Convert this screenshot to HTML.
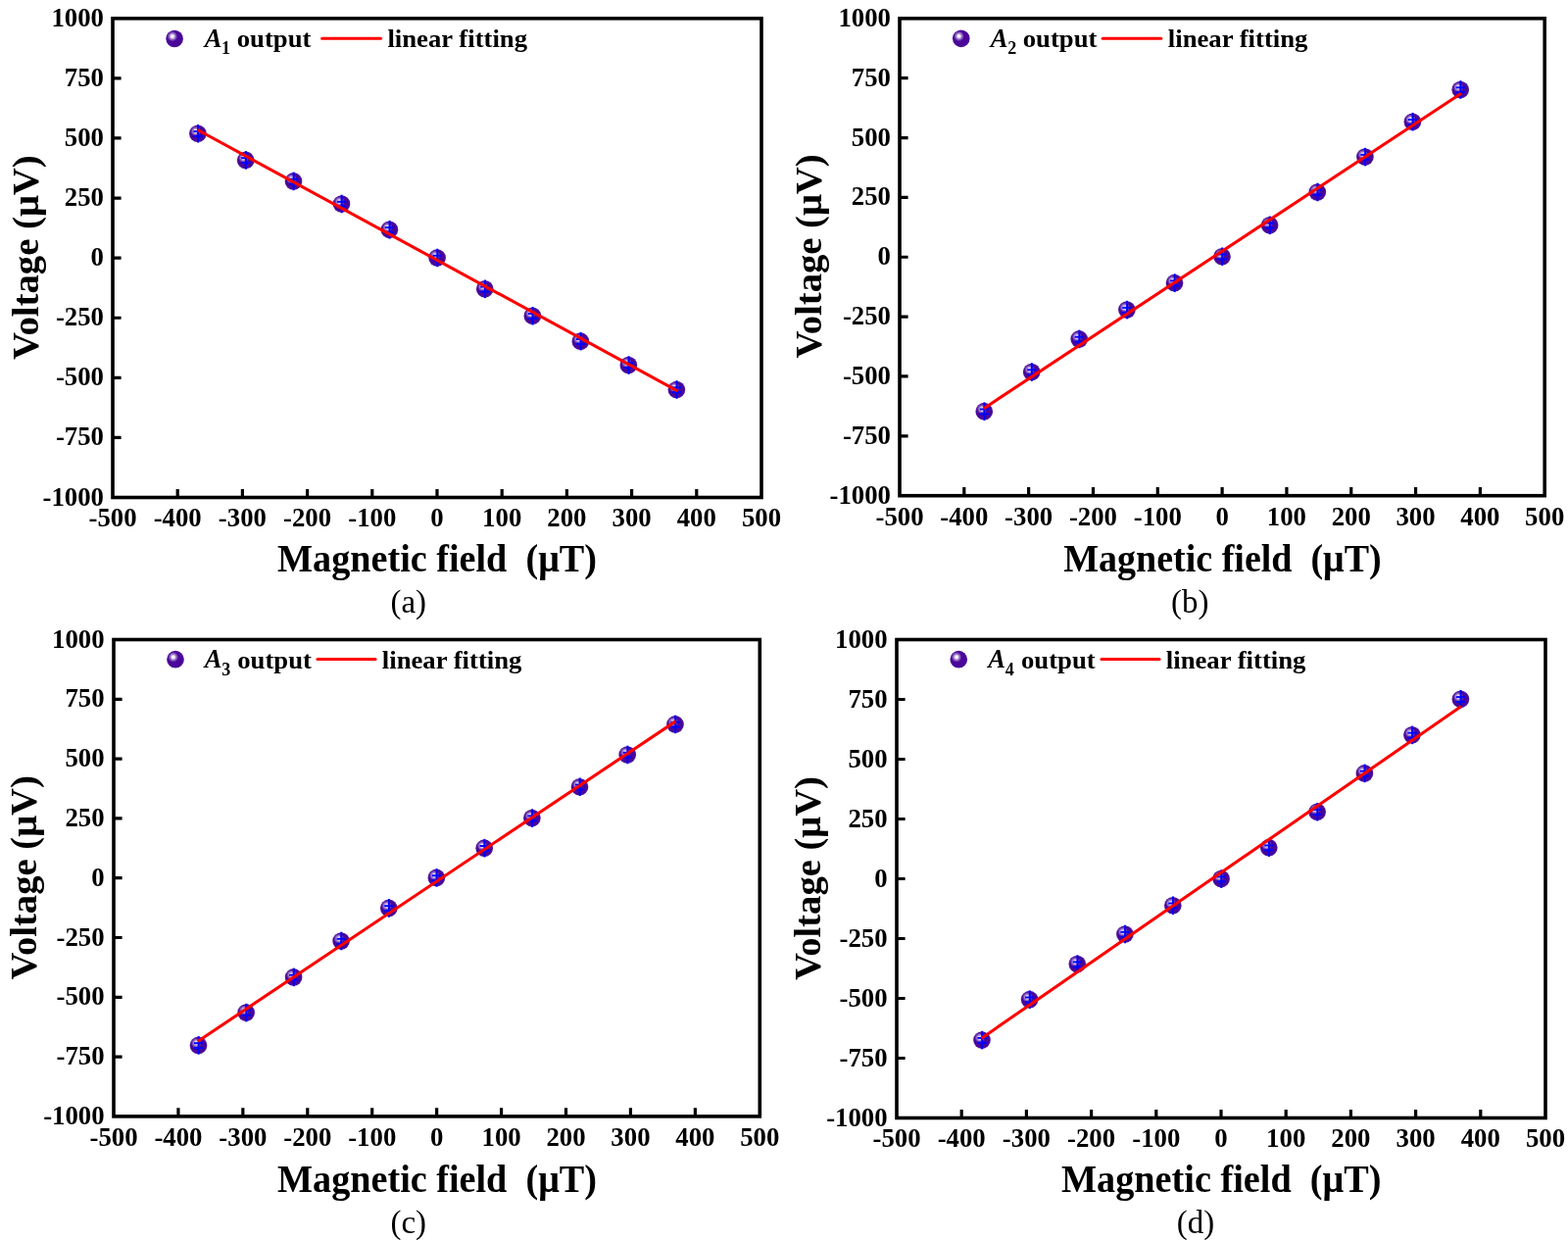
<!DOCTYPE html>
<html lang="en"><head><meta charset="utf-8"><title>Sensor output vs magnetic field</title>
<style>html,body{margin:0;padding:0;background:#fff;}body{width:1600px;height:1265px;overflow:hidden;}svg{display:block;}text{font-family:"Liberation Serif", "Times New Roman", serif;fill:#000;}.tk{font-size:27.7px;font-weight:bold;}.lg{font-size:26.7px;font-weight:bold;}.lg2{font-size:25.4px;font-weight:bold;}.xl{font-size:39.6px;font-weight:bold;}.yl{font-size:38.6px;font-weight:bold;}.cp{font-size:33.0px;}</style></head><body>
<svg width="1600" height="1265" viewBox="0 0 1600 1265">
<defs><radialGradient id="sph" cx="0.5" cy="0.5" r="0.5"><stop offset="0" stop-color="#4c0a9c"/><stop offset="0.8" stop-color="#4a0598"/><stop offset="1" stop-color="#4f1a9c"/></radialGradient><radialGradient id="hl" cx="0.5" cy="0.5" r="0.5"><stop offset="0" stop-color="#ffffff" stop-opacity="1"/><stop offset="0.25" stop-color="#ffffff" stop-opacity="0.93"/><stop offset="0.6" stop-color="#ffffff" stop-opacity="0.42"/><stop offset="1" stop-color="#ffffff" stop-opacity="0"/></radialGradient><g id="mk"><circle r="8.85" fill="url(#sph)"/><circle cx="-2.2" cy="-2.4" r="5.3" fill="url(#hl)"/></g><g id="eb" stroke="#0000ff" stroke-width="2" fill="none"><line x1="0.2" y1="-9.3" x2="0.2" y2="9.3"/><line x1="-4.6" y1="-2.2" x2="4.8" y2="-2.2"/><line x1="-4.6" y1="2.7" x2="4.8" y2="2.7"/></g></defs>
<rect x="0" y="0" width="1600" height="1265" fill="#ffffff"/>
<g id="plot-a">
<rect x="115" y="18.8" width="662" height="488.7" fill="none" stroke="#000" stroke-width="3.6"/>
<path d="M181.2 507.5V498.9M247.4 507.5V498.9M313.6 507.5V498.9M379.8 507.5V498.9M446 507.5V498.9M512.2 507.5V498.9M578.4 507.5V498.9M644.6 507.5V498.9M710.8 507.5V498.9M115 79.89H123.6M115 140.97H123.6M115 202.06H123.6M115 263.15H123.6M115 324.24H123.6M115 385.32H123.6M115 446.41H123.6" stroke="#000" stroke-width="3.2" fill="none"/>
<text class="tk" transform="translate(115 536.8) scale(0.967 1)" text-anchor="middle">-500</text>
<text class="tk" transform="translate(181.2 536.8) scale(0.967 1)" text-anchor="middle">-400</text>
<text class="tk" transform="translate(247.4 536.8) scale(0.967 1)" text-anchor="middle">-300</text>
<text class="tk" transform="translate(313.6 536.8) scale(0.967 1)" text-anchor="middle">-200</text>
<text class="tk" transform="translate(379.8 536.8) scale(0.967 1)" text-anchor="middle">-100</text>
<text class="tk" transform="translate(446 536.8) scale(0.967 1)" text-anchor="middle">0</text>
<text class="tk" transform="translate(512.2 536.8) scale(0.967 1)" text-anchor="middle">100</text>
<text class="tk" transform="translate(578.4 536.8) scale(0.967 1)" text-anchor="middle">200</text>
<text class="tk" transform="translate(644.6 536.8) scale(0.967 1)" text-anchor="middle">300</text>
<text class="tk" transform="translate(710.8 536.8) scale(0.967 1)" text-anchor="middle">400</text>
<text class="tk" transform="translate(777 536.8) scale(0.967 1)" text-anchor="middle">500</text>
<text class="tk" transform="translate(106 26.8) scale(0.967 1)" text-anchor="end">1000</text>
<text class="tk" transform="translate(106 87.89) scale(0.967 1)" text-anchor="end">750</text>
<text class="tk" transform="translate(106 148.97) scale(0.967 1)" text-anchor="end">500</text>
<text class="tk" transform="translate(106 210.06) scale(0.967 1)" text-anchor="end">250</text>
<text class="tk" transform="translate(106 271.15) scale(0.967 1)" text-anchor="end">0</text>
<text class="tk" transform="translate(106 332.24) scale(0.967 1)" text-anchor="end">-250</text>
<text class="tk" transform="translate(106 393.32) scale(0.967 1)" text-anchor="end">-500</text>
<text class="tk" transform="translate(106 454.41) scale(0.967 1)" text-anchor="end">-750</text>
<text class="tk" transform="translate(106 515.5) scale(0.967 1)" text-anchor="end">-1000</text>
<use href="#mk" x="201.9" y="136.25"/><use href="#eb" x="201.9" y="136.25"/>
<use href="#mk" x="250.7" y="163.4"/><use href="#eb" x="250.7" y="163.4"/>
<use href="#mk" x="299.5" y="184.9"/><use href="#eb" x="299.5" y="184.9"/>
<use href="#mk" x="348.5" y="208"/><use href="#eb" x="348.5" y="208"/>
<use href="#mk" x="397.4" y="234.3"/><use href="#eb" x="397.4" y="234.3"/>
<use href="#mk" x="446.1" y="263"/><use href="#eb" x="446.1" y="263"/>
<use href="#mk" x="494.75" y="294.8"/><use href="#eb" x="494.75" y="294.8"/>
<use href="#mk" x="543.4" y="322.25"/><use href="#eb" x="543.4" y="322.25"/>
<use href="#mk" x="592.4" y="348.15"/><use href="#eb" x="592.4" y="348.15"/>
<use href="#mk" x="641.4" y="372.5"/><use href="#eb" x="641.4" y="372.5"/>
<use href="#mk" x="690.4" y="397.5"/><use href="#eb" x="690.4" y="397.5"/>
<line x1="201.7" y1="132.5" x2="691.4" y2="398.8" stroke="#ff0000" stroke-width="3.1" stroke-linecap="butt"/>
<use href="#mk" x="178.1" y="39.5"/>
<text class="lg" x="208.7" y="47.5"><tspan font-style="italic">A</tspan><tspan font-size="18.0px" dx="-0.4" dy="7.2">1</tspan></text>
<text class="lg2" transform="translate(241.7 47.9) scale(1.052 1)">output</text>
<line x1="328.7" y1="39.3" x2="388.5" y2="39.3" stroke="#ff0000" stroke-width="3.1" stroke-linecap="round"/>
<text class="lg2" transform="translate(395.4 47.9) scale(1.052 1)">linear fitting</text>
<text class="xl" x="283" y="583.4" xml:space="preserve" textLength="326" lengthAdjust="spacingAndGlyphs">Magnetic field  (μT)</text>
<text class="cp" x="416.8" y="624.8" text-anchor="middle">(a)</text>
<text class="yl" transform="translate(38.8 367) rotate(-90)" textLength="208.7" lengthAdjust="spacingAndGlyphs">Voltage (μV)</text>
</g>
<g id="plot-b">
<rect x="918" y="18.8" width="658.2" height="486.9" fill="none" stroke="#000" stroke-width="3.6"/>
<path d="M983.82 505.7V497.1M1049.64 505.7V497.1M1115.46 505.7V497.1M1181.28 505.7V497.1M1247.1 505.7V497.1M1312.92 505.7V497.1M1378.74 505.7V497.1M1444.56 505.7V497.1M1510.38 505.7V497.1M918 79.66H926.6M918 140.53H926.6M918 201.39H926.6M918 262.25H926.6M918 323.11H926.6M918 383.97H926.6M918 444.84H926.6" stroke="#000" stroke-width="3.2" fill="none"/>
<text class="tk" transform="translate(918 535.8) scale(0.967 1)" text-anchor="middle">-500</text>
<text class="tk" transform="translate(983.82 535.8) scale(0.967 1)" text-anchor="middle">-400</text>
<text class="tk" transform="translate(1049.64 535.8) scale(0.967 1)" text-anchor="middle">-300</text>
<text class="tk" transform="translate(1115.46 535.8) scale(0.967 1)" text-anchor="middle">-200</text>
<text class="tk" transform="translate(1181.28 535.8) scale(0.967 1)" text-anchor="middle">-100</text>
<text class="tk" transform="translate(1247.1 535.8) scale(0.967 1)" text-anchor="middle">0</text>
<text class="tk" transform="translate(1312.92 535.8) scale(0.967 1)" text-anchor="middle">100</text>
<text class="tk" transform="translate(1378.74 535.8) scale(0.967 1)" text-anchor="middle">200</text>
<text class="tk" transform="translate(1444.56 535.8) scale(0.967 1)" text-anchor="middle">300</text>
<text class="tk" transform="translate(1510.38 535.8) scale(0.967 1)" text-anchor="middle">400</text>
<text class="tk" transform="translate(1576.2 535.8) scale(0.967 1)" text-anchor="middle">500</text>
<text class="tk" transform="translate(909 26.8) scale(0.967 1)" text-anchor="end">1000</text>
<text class="tk" transform="translate(909 87.66) scale(0.967 1)" text-anchor="end">750</text>
<text class="tk" transform="translate(909 148.53) scale(0.967 1)" text-anchor="end">500</text>
<text class="tk" transform="translate(909 209.39) scale(0.967 1)" text-anchor="end">250</text>
<text class="tk" transform="translate(909 270.25) scale(0.967 1)" text-anchor="end">0</text>
<text class="tk" transform="translate(909 331.11) scale(0.967 1)" text-anchor="end">-250</text>
<text class="tk" transform="translate(909 391.97) scale(0.967 1)" text-anchor="end">-500</text>
<text class="tk" transform="translate(909 452.84) scale(0.967 1)" text-anchor="end">-750</text>
<text class="tk" transform="translate(909 513.7) scale(0.967 1)" text-anchor="end">-1000</text>
<use href="#mk" x="1004.25" y="419.7"/><use href="#eb" x="1004.25" y="419.7"/>
<use href="#mk" x="1052.7" y="379.5"/><use href="#eb" x="1052.7" y="379.5"/>
<use href="#mk" x="1101.2" y="345.9"/><use href="#eb" x="1101.2" y="345.9"/>
<use href="#mk" x="1149.9" y="316.1"/><use href="#eb" x="1149.9" y="316.1"/>
<use href="#mk" x="1198.5" y="288.65"/><use href="#eb" x="1198.5" y="288.65"/>
<use href="#mk" x="1247" y="261.75"/><use href="#eb" x="1247" y="261.75"/>
<use href="#mk" x="1295.6" y="229.8"/><use href="#eb" x="1295.6" y="229.8"/>
<use href="#mk" x="1344.3" y="196"/><use href="#eb" x="1344.3" y="196"/>
<use href="#mk" x="1392.9" y="160.1"/><use href="#eb" x="1392.9" y="160.1"/>
<use href="#mk" x="1441.4" y="124.25"/><use href="#eb" x="1441.4" y="124.25"/>
<use href="#mk" x="1490.2" y="91.5"/><use href="#eb" x="1490.2" y="91.5"/>
<line x1="1003.9" y1="416.7" x2="1491.1" y2="95.2" stroke="#ff0000" stroke-width="3.1" stroke-linecap="butt"/>
<use href="#mk" x="980.75" y="39.3"/>
<text class="lg" x="1010.75" y="47.5"><tspan font-style="italic">A</tspan><tspan font-size="18.0px" dx="-0.4" dy="7.2">2</tspan></text>
<text class="lg2" transform="translate(1043.7 47.9) scale(1.052 1)">output</text>
<line x1="1125.25" y1="39.3" x2="1184.75" y2="39.3" stroke="#ff0000" stroke-width="3.1" stroke-linecap="round"/>
<text class="lg2" transform="translate(1191.8 47.9) scale(1.052 1)">linear fitting</text>
<text class="xl" x="1085.2" y="583.4" xml:space="preserve" textLength="324.5" lengthAdjust="spacingAndGlyphs">Magnetic field  (μT)</text>
<text class="cp" x="1214.2" y="624.8" text-anchor="middle">(b)</text>
<text class="yl" transform="translate(837.75 365.6) rotate(-90)" textLength="208.2" lengthAdjust="spacingAndGlyphs">Voltage (μV)</text>
</g>
<g id="plot-c">
<rect x="116" y="652.5" width="659.3" height="486.4" fill="none" stroke="#000" stroke-width="3.6"/>
<path d="M181.93 1138.9V1130.3M247.86 1138.9V1130.3M313.79 1138.9V1130.3M379.72 1138.9V1130.3M445.65 1138.9V1130.3M511.58 1138.9V1130.3M577.51 1138.9V1130.3M643.44 1138.9V1130.3M709.37 1138.9V1130.3M116 713.3H124.6M116 774.1H124.6M116 834.9H124.6M116 895.7H124.6M116 956.5H124.6M116 1017.3H124.6M116 1078.1H124.6" stroke="#000" stroke-width="3.2" fill="none"/>
<text class="tk" transform="translate(116 1169.05) scale(0.967 1)" text-anchor="middle">-500</text>
<text class="tk" transform="translate(181.93 1169.05) scale(0.967 1)" text-anchor="middle">-400</text>
<text class="tk" transform="translate(247.86 1169.05) scale(0.967 1)" text-anchor="middle">-300</text>
<text class="tk" transform="translate(313.79 1169.05) scale(0.967 1)" text-anchor="middle">-200</text>
<text class="tk" transform="translate(379.72 1169.05) scale(0.967 1)" text-anchor="middle">-100</text>
<text class="tk" transform="translate(445.65 1169.05) scale(0.967 1)" text-anchor="middle">0</text>
<text class="tk" transform="translate(511.58 1169.05) scale(0.967 1)" text-anchor="middle">100</text>
<text class="tk" transform="translate(577.51 1169.05) scale(0.967 1)" text-anchor="middle">200</text>
<text class="tk" transform="translate(643.44 1169.05) scale(0.967 1)" text-anchor="middle">300</text>
<text class="tk" transform="translate(709.37 1169.05) scale(0.967 1)" text-anchor="middle">400</text>
<text class="tk" transform="translate(775.3 1169.05) scale(0.967 1)" text-anchor="middle">500</text>
<text class="tk" transform="translate(106.6 660.5) scale(0.967 1)" text-anchor="end">1000</text>
<text class="tk" transform="translate(106.6 721.3) scale(0.967 1)" text-anchor="end">750</text>
<text class="tk" transform="translate(106.6 782.1) scale(0.967 1)" text-anchor="end">500</text>
<text class="tk" transform="translate(106.6 842.9) scale(0.967 1)" text-anchor="end">250</text>
<text class="tk" transform="translate(106.6 903.7) scale(0.967 1)" text-anchor="end">0</text>
<text class="tk" transform="translate(106.6 964.5) scale(0.967 1)" text-anchor="end">-250</text>
<text class="tk" transform="translate(106.6 1025.3) scale(0.967 1)" text-anchor="end">-500</text>
<text class="tk" transform="translate(106.6 1086.1) scale(0.967 1)" text-anchor="end">-750</text>
<text class="tk" transform="translate(106.6 1146.9) scale(0.967 1)" text-anchor="end">-1000</text>
<use href="#mk" x="202.5" y="1066.4"/><use href="#eb" x="202.5" y="1066.4"/>
<use href="#mk" x="251.15" y="1033.1"/><use href="#eb" x="251.15" y="1033.1"/>
<use href="#mk" x="299.6" y="996.9"/><use href="#eb" x="299.6" y="996.9"/>
<use href="#mk" x="348.1" y="960"/><use href="#eb" x="348.1" y="960"/>
<use href="#mk" x="396.8" y="926.4"/><use href="#eb" x="396.8" y="926.4"/>
<use href="#mk" x="445.4" y="895.45"/><use href="#eb" x="445.4" y="895.45"/>
<use href="#mk" x="494.2" y="865.2"/><use href="#eb" x="494.2" y="865.2"/>
<use href="#mk" x="542.9" y="834.6"/><use href="#eb" x="542.9" y="834.6"/>
<use href="#mk" x="591.5" y="802.75"/><use href="#eb" x="591.5" y="802.75"/>
<use href="#mk" x="640.2" y="770"/><use href="#eb" x="640.2" y="770"/>
<use href="#mk" x="689" y="738.9"/><use href="#eb" x="689" y="738.9"/>
<line x1="202" y1="1062.2" x2="689.4" y2="735.9" stroke="#ff0000" stroke-width="3.1" stroke-linecap="butt"/>
<use href="#mk" x="179" y="672.7"/>
<text class="lg" x="208.85" y="681.3"><tspan font-style="italic">A</tspan><tspan font-size="18.0px" dx="-0.4" dy="7.2">3</tspan></text>
<text class="lg2" transform="translate(242.2 681.7) scale(1.052 1)">output</text>
<line x1="324" y1="672.5" x2="383" y2="672.5" stroke="#ff0000" stroke-width="3.1" stroke-linecap="round"/>
<text class="lg2" transform="translate(389.8 681.7) scale(1.052 1)">linear fitting</text>
<text class="xl" x="283" y="1216.3" xml:space="preserve" textLength="326" lengthAdjust="spacingAndGlyphs">Magnetic field  (μT)</text>
<text class="cp" x="416.8" y="1257.6" text-anchor="middle">(c)</text>
<text class="yl" transform="translate(37.4 999.4) rotate(-90)" textLength="208.2" lengthAdjust="spacingAndGlyphs">Voltage (μV)</text>
</g>
<g id="plot-d">
<rect x="915" y="652.5" width="662" height="488" fill="none" stroke="#000" stroke-width="3.6"/>
<path d="M981.2 1140.5V1131.9M1047.4 1140.5V1131.9M1113.6 1140.5V1131.9M1179.8 1140.5V1131.9M1246 1140.5V1131.9M1312.2 1140.5V1131.9M1378.4 1140.5V1131.9M1444.6 1140.5V1131.9M1510.8 1140.5V1131.9M915 713.5H923.6M915 774.5H923.6M915 835.5H923.6M915 896.5H923.6M915 957.5H923.6M915 1018.5H923.6M915 1079.5H923.6" stroke="#000" stroke-width="3.2" fill="none"/>
<text class="tk" transform="translate(915 1170.2) scale(0.967 1)" text-anchor="middle">-500</text>
<text class="tk" transform="translate(981.2 1170.2) scale(0.967 1)" text-anchor="middle">-400</text>
<text class="tk" transform="translate(1047.4 1170.2) scale(0.967 1)" text-anchor="middle">-300</text>
<text class="tk" transform="translate(1113.6 1170.2) scale(0.967 1)" text-anchor="middle">-200</text>
<text class="tk" transform="translate(1179.8 1170.2) scale(0.967 1)" text-anchor="middle">-100</text>
<text class="tk" transform="translate(1246 1170.2) scale(0.967 1)" text-anchor="middle">0</text>
<text class="tk" transform="translate(1312.2 1170.2) scale(0.967 1)" text-anchor="middle">100</text>
<text class="tk" transform="translate(1378.4 1170.2) scale(0.967 1)" text-anchor="middle">200</text>
<text class="tk" transform="translate(1444.6 1170.2) scale(0.967 1)" text-anchor="middle">300</text>
<text class="tk" transform="translate(1510.8 1170.2) scale(0.967 1)" text-anchor="middle">400</text>
<text class="tk" transform="translate(1577 1170.2) scale(0.967 1)" text-anchor="middle">500</text>
<text class="tk" transform="translate(905.6 660.5) scale(0.967 1)" text-anchor="end">1000</text>
<text class="tk" transform="translate(905.6 721.5) scale(0.967 1)" text-anchor="end">750</text>
<text class="tk" transform="translate(905.6 782.5) scale(0.967 1)" text-anchor="end">500</text>
<text class="tk" transform="translate(905.6 843.5) scale(0.967 1)" text-anchor="end">250</text>
<text class="tk" transform="translate(905.6 904.5) scale(0.967 1)" text-anchor="end">0</text>
<text class="tk" transform="translate(905.6 965.5) scale(0.967 1)" text-anchor="end">-250</text>
<text class="tk" transform="translate(905.6 1026.5) scale(0.967 1)" text-anchor="end">-500</text>
<text class="tk" transform="translate(905.6 1087.5) scale(0.967 1)" text-anchor="end">-750</text>
<text class="tk" transform="translate(905.6 1148.5) scale(0.967 1)" text-anchor="end">-1000</text>
<use href="#mk" x="1002" y="1061.1"/><use href="#eb" x="1002" y="1061.1"/>
<use href="#mk" x="1050.6" y="1019.7"/><use href="#eb" x="1050.6" y="1019.7"/>
<use href="#mk" x="1099.3" y="983.6"/><use href="#eb" x="1099.3" y="983.6"/>
<use href="#mk" x="1147.9" y="953"/><use href="#eb" x="1147.9" y="953"/>
<use href="#mk" x="1196.8" y="923.75"/><use href="#eb" x="1196.8" y="923.75"/>
<use href="#mk" x="1246.1" y="896.6"/><use href="#eb" x="1246.1" y="896.6"/>
<use href="#mk" x="1294.75" y="864.65"/><use href="#eb" x="1294.75" y="864.65"/>
<use href="#mk" x="1344.1" y="828.25"/><use href="#eb" x="1344.1" y="828.25"/>
<use href="#mk" x="1392.4" y="788.9"/><use href="#eb" x="1392.4" y="788.9"/>
<use href="#mk" x="1440.9" y="749.85"/><use href="#eb" x="1440.9" y="749.85"/>
<use href="#mk" x="1490.4" y="713.3"/><use href="#eb" x="1490.4" y="713.3"/>
<line x1="1001.6" y1="1059.2" x2="1491.1" y2="720.6" stroke="#ff0000" stroke-width="3.1" stroke-linecap="butt"/>
<use href="#mk" x="978.25" y="672.7"/>
<text class="lg" x="1008.25" y="681.3"><tspan font-style="italic">A</tspan><tspan font-size="18.0px" dx="-0.4" dy="7.2">4</tspan></text>
<text class="lg2" transform="translate(1042 681.7) scale(1.052 1)">output</text>
<line x1="1124" y1="672.5" x2="1183" y2="672.5" stroke="#ff0000" stroke-width="3.1" stroke-linecap="round"/>
<text class="lg2" transform="translate(1189.8 681.7) scale(1.052 1)">linear fitting</text>
<text class="xl" x="1083" y="1216.3" xml:space="preserve" textLength="326.5" lengthAdjust="spacingAndGlyphs">Magnetic field  (μT)</text>
<text class="cp" x="1220" y="1257.6" text-anchor="middle">(d)</text>
<text class="yl" transform="translate(836.6 1000.1) rotate(-90)" textLength="208" lengthAdjust="spacingAndGlyphs">Voltage (μV)</text>
</g>
</svg></body></html>
